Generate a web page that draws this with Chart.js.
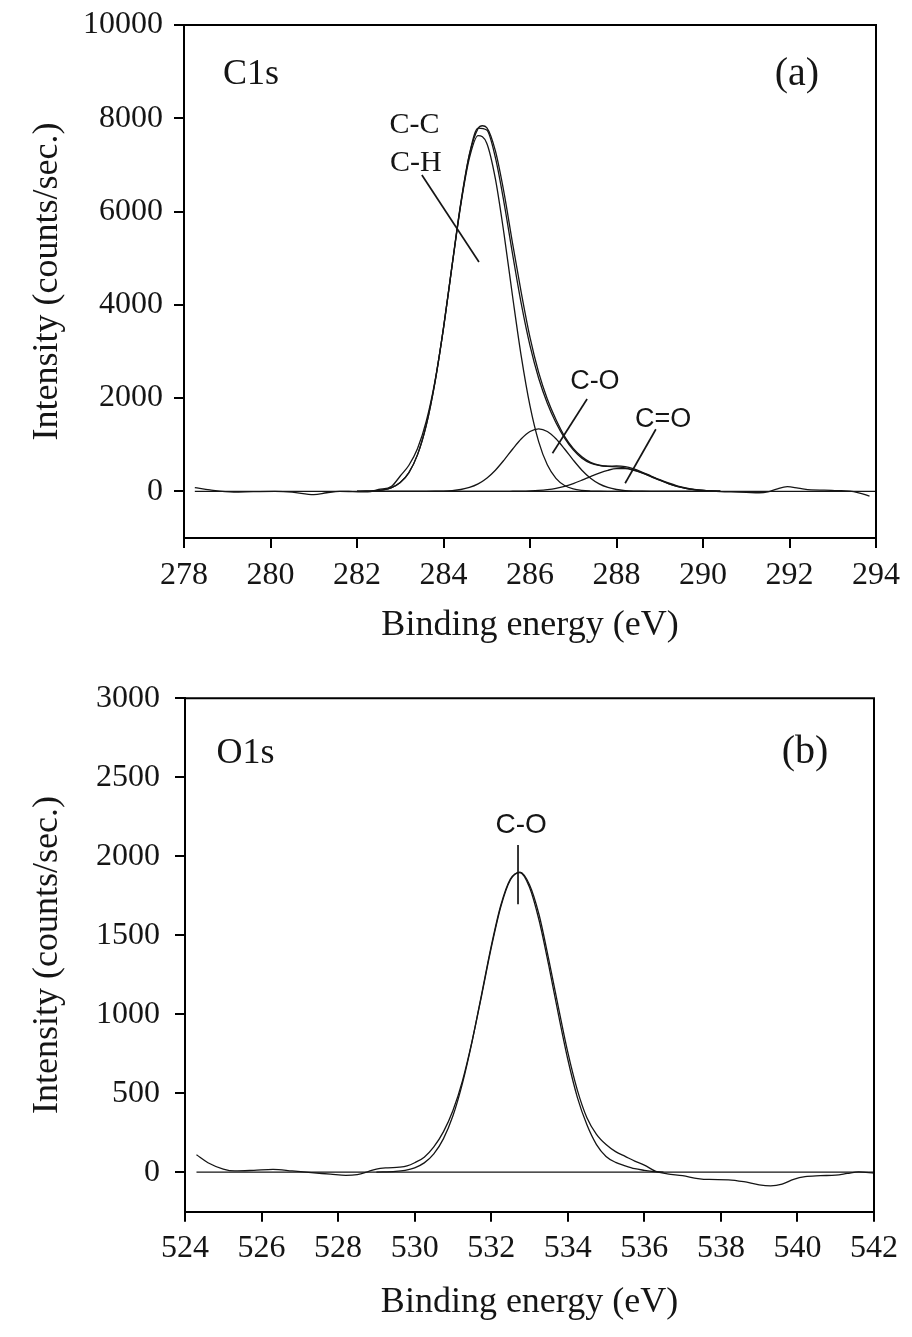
<!DOCTYPE html>
<html><head><meta charset="utf-8">
<script src="https://cdn.jsdelivr.net/npm/chart.js@4.4.0/dist/chart.umd.min.js"></script>
<style>
html,body{margin:0;padding:0;background:#fff;}
#wrap{position:relative;width:912px;height:1337px;background:#fff;}
canvas{position:absolute;left:0;}
</style></head><body>
<div id="wrap">
<canvas id="c1" width="912" height="668" style="top:0px"></canvas>
<canvas id="c2" width="912" height="669" style="top:668px"></canvas>
</div>
<script>
// ---------- data: C1s (a) ----------
const c1sTicksX = [278, 280, 282, 284, 286, 288, 290, 292, 294];
const c1sTicksY = [0, 2000, 4000, 6000, 8000, 10000];

const c1sRawE = [278.25, 278.6, 279.15, 279.6, 280.1, 280.5, 281.0, 281.3, 281.6, 281.9, 282.25, 282.5, 282.8, 283.0, 283.2, 283.4, 283.6, 283.8, 284.0, 284.2, 284.4, 284.6, 284.8, 284.9, 285.0, 285.2, 285.4, 285.6, 285.8, 286.0, 286.2, 286.4, 286.6, 286.8, 287.0, 287.2, 287.4, 287.6, 287.8, 288.0, 288.2, 288.4, 288.6, 288.8, 289.0, 289.2, 289.4, 289.6, 289.8, 290.0, 290.4, 290.8, 291.0, 291.3, 291.5, 291.7, 291.95, 292.2, 292.5, 292.8, 293.1, 293.4, 293.6, 293.85];
const c1sRawI = [80, 30, -15, -5, 0, -15, -70, -30, 0, -5, -12, 40, 110, 330, 560, 920, 1500, 2350, 3500, 4850, 6170, 7220, 7780, 7840, 7800, 7300, 6400, 5300, 4250, 3300, 2550, 1980, 1540, 1180, 920, 740, 620, 560, 540, 545, 530, 480, 410, 330, 250, 180, 120, 75, 40, 20, -5, -14, -20, -30, -10, 50, 100, 70, 30, 28, 15, 6, -30, -100];

const c1sFitE = [282.0, 282.2, 282.4, 282.6, 282.8, 283.0, 283.2, 283.4, 283.6, 283.8, 284.0, 284.2, 284.4, 284.6, 284.8, 285.0, 285.2, 285.4, 285.6, 285.8, 286.0, 286.2, 286.4, 286.6, 286.8, 287.0, 287.2, 287.4, 287.6, 287.8, 288.0, 288.2, 288.4, 288.6, 288.8, 289.0, 289.2, 289.4, 289.6, 289.8, 290.0, 290.2, 290.4];
const c1sCC  = [1, 4, 12, 32, 81, 189, 403, 788, 1412, 2323, 3502, 4845, 6145, 7150, 7629, 7466, 6701, 5516, 4163, 2883, 1831, 1066, 569, 279, 125, 52, 20, 7, 2, 0, 0, 0, 0, 0, 0, 0, 0, 0, 0, 0, 0, 0, 0];
const c1sCO  = [0, 0, 0, 0, 0, 0, 0, 0, 1, 3, 7, 18, 40, 84, 161, 282, 454, 671, 908, 1127, 1283, 1340, 1283, 1127, 908, 671, 454, 282, 161, 84, 40, 18, 7, 3, 1, 0, 0, 0, 0, 0, 0, 0, 0];
const c1sCdO = [0, 0, 0, 0, 0, 0, 0, 0, 0, 0, 0, 0, 0, 0, 0, 0, 0, 0, 2, 4, 10, 20, 38, 66, 109, 167, 239, 317, 392, 452, 486, 486, 452, 392, 317, 239, 167, 109, 66, 38, 20, 10, 4];
const c1sEnvelope = [1, 4, 12, 32, 81, 189, 403, 788, 1413, 2326, 3509, 4863, 6185, 7234, 7790, 7748, 7155, 6187, 5073, 4014, 3124, 2426, 1890, 1472, 1142, 890, 713, 606, 555, 536, 526, 504, 459, 395, 318, 239, 167, 109, 66, 38, 20, 10, 4];
const c1sBaseE = [278.25, 294];
const c1sBaseI = [0, 0];

// ---------- data: O1s (b) ----------
const o1sTicksX = [524, 526, 528, 530, 532, 534, 536, 538, 540, 542];
const o1sTicksY = [0, 500, 1000, 1500, 2000, 2500, 3000];

const o1sRawE = [524.3, 524.6, 525.0, 525.3, 525.8, 526.3, 526.8, 527.3, 527.8, 528.2, 528.5, 528.8, 529.0, 529.3, 529.6, 529.8, 530.0, 530.25, 530.5, 530.75, 531.0, 531.25, 531.5, 531.75, 532.0, 532.25, 532.5, 532.75, 533.0, 533.25, 533.5, 533.75, 534.0, 534.25, 534.5, 534.75, 535.0, 535.25, 535.5, 535.75, 536.0, 536.3, 536.6, 537.0, 537.4, 537.7, 538.2, 538.6, 539.0, 539.3, 539.6, 539.9, 540.2, 540.6, 541.0, 541.3, 541.6, 542.0];
const o1sRawI = [110, 60, 20, 8, 12, 18, 8, -3, -12, -20, -15, 5, 20, 28, 32, 40, 60, 95, 160, 255, 390, 580, 830, 1120, 1420, 1680, 1850, 1900, 1820, 1630, 1350, 1050, 760, 520, 345, 240, 175, 130, 100, 70, 45, 5, -10, -22, -40, -46, -48, -60, -80, -86, -75, -45, -28, -22, -18, -8, 2, -5];

const o1sFitE = [529.0, 529.5, 529.75, 530.0, 530.25, 530.5, 530.75, 531.0, 531.25, 531.5, 531.75, 532.0, 532.25, 532.5, 532.75, 533.0, 533.25, 533.5, 533.75, 534.0, 534.25, 534.5, 534.75, 535.0, 535.25, 535.5, 535.75, 536.0, 536.25, 536.5];
const o1sFitI = [1, 5, 12, 28, 59, 116, 211, 357, 564, 827, 1128, 1431, 1690, 1856, 1897, 1804, 1595, 1312, 1005, 715, 474, 300, 175, 100, 62, 40, 22, 12, 4, 0];
const o1sBaseE = [524.3, 542];
const o1sBaseI = [0, 0];

// ---------- helpers ----------
const SERIF = "'Liberation Serif', 'Times New Roman', serif";
const SANS = "'Liberation Sans', Arial, sans-serif";
const INK = '#151515';

function pts(E, I) { return E.map((e, k) => ({ x: e, y: I[k] })); }
function lineDs(E, I, w, smooth) {
  return {
    data: pts(E, I), showLine: true, borderColor: INK, borderWidth: w,
    pointRadius: 0, fill: false,
    cubicInterpolationMode: smooth ? 'monotone' : 'default', tension: 0
  };
}

const boxPlugin = {
  id: 'box',
  afterDraw(chart) {
    const { ctx, chartArea: a } = chart;
    ctx.save();
    ctx.strokeStyle = '#000';
    ctx.lineWidth = 2;
    ctx.beginPath();
    ctx.moveTo(a.left, a.top);
    ctx.lineTo(a.right, a.top);
    ctx.lineTo(a.right, a.bottom);
    ctx.stroke();
    ctx.restore();
  }
};

const annotPlugin = {
  id: 'annot',
  afterDatasetsDraw(chart, args, opts) {
    const { ctx, scales: { x, y } } = chart;
    ctx.save();
    (opts.texts || []).forEach(t => {
      ctx.font = t.font;
      ctx.fillStyle = INK;
      ctx.textAlign = 'center';
      ctx.textBaseline = 'middle';
      ctx.fillText(t.text, x.getPixelForValue(t.e), y.getPixelForValue(t.i));
    });
    (opts.lines || []).forEach(l => {
      ctx.beginPath();
      ctx.moveTo(x.getPixelForValue(l[0]), y.getPixelForValue(l[1]));
      ctx.lineTo(x.getPixelForValue(l[2]), y.getPixelForValue(l[3]));
      ctx.lineWidth = 1.7;
      ctx.strokeStyle = INK;
      ctx.stroke();
    });
    ctx.restore();
  }
};

function makeChart(id, o) {
  return new Chart(document.getElementById(id), {
    type: 'scatter',
    data: { datasets: o.datasets },
    options: {
      responsive: false, animation: false, devicePixelRatio: 1,
      layout: { padding: o.pad },
      plugins: { legend: { display: false }, tooltip: { enabled: false }, annot: o.annot },
      scales: {
        x: {
          type: 'linear', position: 'bottom', min: o.xMin, max: o.xMax,
          afterBuildTicks: s => { s.ticks = o.ticksX.map(v => ({ value: v })); },
          afterFit: s => { s.height = o.xH; s.paddingLeft = 0; s.paddingRight = 0; },
          ticks: { autoSkip: false, maxRotation: 0, padding: 8, color: INK, font: { family: SERIF, size: 32 }, callback: v => String(v) },
          grid: { drawOnChartArea: false, drawTicks: true, tickLength: 10, color: '#000', lineWidth: 2 },
          border: { display: true, color: '#000', width: 2 },
          title: { display: true, text: 'Binding energy (eV)', color: INK, font: { family: SERIF, size: 36 }, padding: { top: 0, bottom: o.xTitlePad } }
        },
        y: {
          type: 'linear', position: 'left', min: o.yMin, max: o.yMax,
          afterBuildTicks: s => { s.ticks = o.ticksY.map(v => ({ value: v })); },
          afterFit: s => { s.width = o.yW; s.paddingTop = 0; s.paddingBottom = 0; },
          ticks: { padding: o.yTickPad, color: INK, font: { family: SERIF, size: 32 }, callback: v => String(v) },
          grid: { drawOnChartArea: false, drawTicks: true, tickLength: 10, color: '#000', lineWidth: 2 },
          border: { display: true, color: '#000', width: 2 },
          title: { display: true, text: 'Intensity (counts/sec.)', color: INK, font: { family: SERIF, size: 36 }, padding: { top: 26, bottom: 0 } }
        }
      }
    },
    plugins: [boxPlugin, annotPlugin]
  });
}

makeChart('c1', {
  datasets: [
    lineDs(c1sBaseE, c1sBaseI, 1.3, false),
    lineDs(c1sFitE, c1sCC, 1.3, true),
    lineDs(c1sFitE, c1sCO, 1.3, true),
    lineDs(c1sFitE, c1sCdO, 1.3, true),
    lineDs(c1sFitE, c1sEnvelope, 1.3, true),
    lineDs(c1sRawE, c1sRawI, 1.3, true)
  ],
  pad: { left: 0, right: 36, top: 25, bottom: 0 },
  xMin: 278, xMax: 294, yMin: -1000, yMax: 10000,
  ticksX: c1sTicksX, ticksY: c1sTicksY,
  xH: 130, yW: 184, xTitlePad: 21, yTickPad: 11,
  annot: {
    texts: [
      { text: 'C1s', e: 279.55, i: 8928, font: '36px ' + SERIF },
      { text: '(a)', e: 292.17, i: 8928, font: '40px ' + SERIF },
      { text: 'C-C', e: 283.33, i: 7856, font: '30px ' + SERIF },
      { text: 'C-H', e: 283.36, i: 7041, font: '30px ' + SERIF },
      { text: 'C-O', e: 287.5, i: 2346, font: '27px ' + SANS },
      { text: 'C=O', e: 289.08, i: 1546, font: '27px ' + SANS }
    ],
    lines: [
      [283.50, 6784, 284.82, 4919],
      [287.32, 1981, 286.52, 817],
      [288.91, 1331, 288.20, 174]
    ]
  }
});

makeChart('c2', {
  datasets: [
    lineDs(o1sBaseE, o1sBaseI, 1.3, false),
    lineDs(o1sFitE, o1sFitI, 1.3, true),
    lineDs(o1sRawE, o1sRawI, 1.3, true)
  ],
  pad: { left: 0, right: 38, top: 30.3, bottom: 0 },
  xMin: 524, xMax: 542, yMin: -250, yMax: 3000,
  ticksX: o1sTicksX, ticksY: o1sTicksY,
  xH: 125.3, yW: 185, xTitlePad: 12.4, yTickPad: 15,
  annot: {
    texts: [
      { text: 'O1s', e: 525.58, i: 2653, font: '36px ' + SERIF },
      { text: '(b)', e: 540.2, i: 2660, font: '40px ' + SERIF },
      { text: 'C-O', e: 532.78, i: 2194, font: '28px ' + SANS }
    ],
    lines: [
      [532.70, 2071, 532.70, 1696]
    ]
  }
});
</script>
</body></html>
